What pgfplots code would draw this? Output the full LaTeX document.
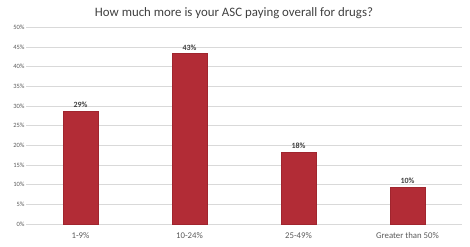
\documentclass[border=0pt]{standalone}
\usepackage{pgfplots}
\pgfplotsset{compat=1.18}
\usepackage{pgfplotstable}
\usepackage{fontspec}
\setmainfont{Carlito}
\definecolor{barred}{HTML}{B22C36}
\definecolor{baredge}{HTML}{A0252E}
\definecolor{gridgray}{HTML}{D9D9D9}
\definecolor{ticktext}{HTML}{595959}
\definecolor{labtext}{HTML}{404040}
\pgfplotstableread{
x y lab
0 28.6 29\%
1 43.3 43\%
2 18.2 18\%
3 9.4 10\%
}\datatable
\begin{document}
\begin{tikzpicture}[x=1bp,y=1bp]
\path[use as bounding box] (0,0) rectangle (470,246);
\begin{axis}[
  at={(26bp,22bp)}, anchor=south west,
  width=436bp, height=196.7bp, scale only axis,
  xmin=-0.5, xmax=3.5, ymin=0, ymax=50,
  ybar, bar width=35bp,
  axis line style={draw=none},
  tick style={draw=none},
  ymajorgrids, grid style={gridgray, line width=0.6pt},
  ytick={0,5,...,50},
  yticklabel={\pgfmathprintnumber{\tick}\%},
  /pgf/number format/assume math mode=true,
  yticklabel style={font=\fontsize{6.5}{7.5}\selectfont, text=ticktext, xshift=2bp},
  xtick=data,
  xticklabels={1-9\%,10-24\%,25-49\%,Greater than 50\%},
  xticklabel style={font=\fontsize{8.8}{10}\selectfont, text=ticktext, yshift=-1bp},
  nodes near coords={\pgfplotspointmeta},
  point meta=explicit symbolic,
  nodes near coords style={font=\bfseries\fontsize{8}{9}\selectfont, text=labtext},
  clip=false,
]
\addplot[fill=barred, draw=baredge, line width=0.4pt] table[x=x, y=y, meta=lab] {\datatable};
\end{axis}
\node[font=\fontsize{12.9}{15}\selectfont, text=labtext] at (234,233) {How much more is your ASC paying overall for drugs?};
\end{tikzpicture}
\end{document}
